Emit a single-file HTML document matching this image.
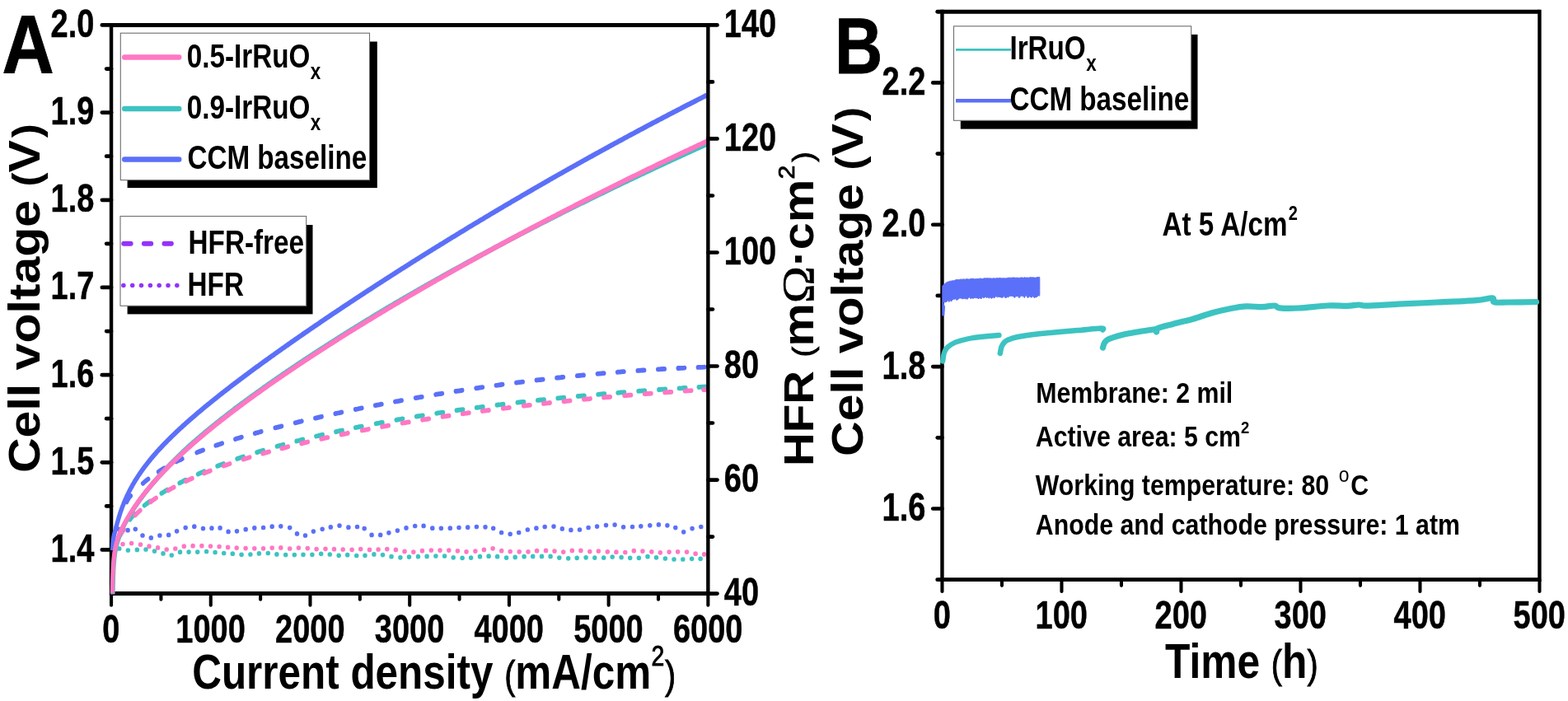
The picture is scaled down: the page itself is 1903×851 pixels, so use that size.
<!DOCTYPE html>
<html lang="en"><head><meta charset="utf-8"><title>Figure</title>
<style>html,body{margin:0;padding:0;background:#fff;overflow:hidden}svg{display:block}text{white-space:pre}</style>
</head><body>
<svg width="1903" height="851" viewBox="0 0 1903 851">
<rect width="1903" height="851" fill="#fff"/>
<g>
<rect width="1903" height="851" fill="#fff"/>
<g id="panelA">
<g stroke="#000" fill="none">
<line x1="135.05" y1="28.00" x2="135.05" y2="723.00" stroke-width="4.40" stroke-linecap="butt"/>
<line x1="135.05" y1="30.45" x2="859.35" y2="30.45" stroke-width="4.90" stroke-linecap="butt"/>
<line x1="135.05" y1="720.55" x2="859.35" y2="720.55" stroke-width="4.90" stroke-linecap="butt"/>
<line x1="123.85" y1="30.45" x2="135.05" y2="30.45" stroke-width="4.70" stroke-linecap="round"/>
<line x1="123.85" y1="136.62" x2="135.05" y2="136.62" stroke-width="4.70" stroke-linecap="round"/>
<line x1="123.85" y1="242.79" x2="135.05" y2="242.79" stroke-width="4.70" stroke-linecap="round"/>
<line x1="123.85" y1="348.96" x2="135.05" y2="348.96" stroke-width="4.70" stroke-linecap="round"/>
<line x1="123.85" y1="455.13" x2="135.05" y2="455.13" stroke-width="4.70" stroke-linecap="round"/>
<line x1="123.85" y1="561.30" x2="135.05" y2="561.30" stroke-width="4.70" stroke-linecap="round"/>
<line x1="123.85" y1="667.47" x2="135.05" y2="667.47" stroke-width="4.70" stroke-linecap="round"/>
<line x1="129.15" y1="83.53" x2="135.05" y2="83.53" stroke-width="4.70" stroke-linecap="round"/>
<line x1="129.15" y1="189.70" x2="135.05" y2="189.70" stroke-width="4.70" stroke-linecap="round"/>
<line x1="129.15" y1="295.87" x2="135.05" y2="295.87" stroke-width="4.70" stroke-linecap="round"/>
<line x1="129.15" y1="402.04" x2="135.05" y2="402.04" stroke-width="4.70" stroke-linecap="round"/>
<line x1="129.15" y1="508.21" x2="135.05" y2="508.21" stroke-width="4.70" stroke-linecap="round"/>
<line x1="129.15" y1="614.38" x2="135.05" y2="614.38" stroke-width="4.70" stroke-linecap="round"/>
<line x1="135.05" y1="720.55" x2="135.05" y2="734.75" stroke-width="4.10" stroke-linecap="round"/>
<line x1="255.77" y1="720.55" x2="255.77" y2="734.75" stroke-width="4.10" stroke-linecap="round"/>
<line x1="376.48" y1="720.55" x2="376.48" y2="734.75" stroke-width="4.10" stroke-linecap="round"/>
<line x1="497.20" y1="720.55" x2="497.20" y2="734.75" stroke-width="4.10" stroke-linecap="round"/>
<line x1="617.92" y1="720.55" x2="617.92" y2="734.75" stroke-width="4.10" stroke-linecap="round"/>
<line x1="738.63" y1="720.55" x2="738.63" y2="734.75" stroke-width="4.10" stroke-linecap="round"/>
<line x1="859.35" y1="720.55" x2="859.35" y2="734.75" stroke-width="4.10" stroke-linecap="round"/>
<line x1="195.41" y1="720.55" x2="195.41" y2="727.75" stroke-width="4.10" stroke-linecap="round"/>
<line x1="316.12" y1="720.55" x2="316.12" y2="727.75" stroke-width="4.10" stroke-linecap="round"/>
<line x1="436.84" y1="720.55" x2="436.84" y2="727.75" stroke-width="4.10" stroke-linecap="round"/>
<line x1="557.56" y1="720.55" x2="557.56" y2="727.75" stroke-width="4.10" stroke-linecap="round"/>
<line x1="678.28" y1="720.55" x2="678.28" y2="727.75" stroke-width="4.10" stroke-linecap="round"/>
<line x1="798.99" y1="720.55" x2="798.99" y2="727.75" stroke-width="4.10" stroke-linecap="round"/>
</g>
<g fill="none" stroke-linejoin="round">
<g fill="#5B70F8" stroke="none"><ellipse cx="144.1" cy="642.3" rx="2.74" ry="2.85"/><ellipse cx="155.1" cy="643.7" rx="2.74" ry="2.85"/><ellipse cx="164.3" cy="642.3" rx="2.74" ry="2.85"/><ellipse cx="173.0" cy="650.0" rx="2.74" ry="2.85"/><ellipse cx="183.3" cy="652.9" rx="2.74" ry="2.85"/><ellipse cx="193.9" cy="650.0" rx="2.74" ry="2.85"/><ellipse cx="204.7" cy="649.4" rx="2.74" ry="2.85"/><ellipse cx="214.6" cy="644.8" rx="2.74" ry="2.85"/><ellipse cx="225.2" cy="640.6" rx="2.74" ry="2.85"/><ellipse cx="235.8" cy="639.2" rx="2.74" ry="2.85"/><ellipse cx="246.5" cy="641.6" rx="2.74" ry="2.85"/><ellipse cx="256.9" cy="641.2" rx="2.74" ry="2.85"/><ellipse cx="267.1" cy="640.9" rx="2.74" ry="2.85"/><ellipse cx="277.1" cy="645.4" rx="2.74" ry="2.85"/><ellipse cx="287.5" cy="644.8" rx="2.74" ry="2.85"/><ellipse cx="298.2" cy="642.7" rx="2.74" ry="2.85"/><ellipse cx="308.8" cy="640.9" rx="2.74" ry="2.85"/><ellipse cx="319.6" cy="640.5" rx="2.74" ry="2.85"/><ellipse cx="330.2" cy="639.2" rx="2.74" ry="2.85"/><ellipse cx="340.8" cy="638.8" rx="2.74" ry="2.85"/><ellipse cx="351.7" cy="640.6" rx="2.74" ry="2.85"/><ellipse cx="360.5" cy="647.9" rx="2.74" ry="2.85"/><ellipse cx="370.5" cy="650.1" rx="2.74" ry="2.85"/><ellipse cx="380.4" cy="645.1" rx="2.74" ry="2.85"/><ellipse cx="391.2" cy="642.3" rx="2.74" ry="2.85"/><ellipse cx="401.3" cy="639.9" rx="2.74" ry="2.85"/><ellipse cx="412.0" cy="638.1" rx="2.74" ry="2.85"/><ellipse cx="422.9" cy="640.2" rx="2.74" ry="2.85"/><ellipse cx="433.5" cy="639.5" rx="2.74" ry="2.85"/><ellipse cx="442.2" cy="641.6" rx="2.74" ry="2.85"/><ellipse cx="451.1" cy="649.4" rx="2.74" ry="2.85"/><ellipse cx="461.7" cy="649.4" rx="2.74" ry="2.85"/><ellipse cx="471.9" cy="646.8" rx="2.74" ry="2.85"/><ellipse cx="482.4" cy="644.1" rx="2.74" ry="2.85"/><ellipse cx="493.0" cy="640.9" rx="2.74" ry="2.85"/><ellipse cx="503.7" cy="638.5" rx="2.74" ry="2.85"/><ellipse cx="514.1" cy="638.4" rx="2.74" ry="2.85"/><ellipse cx="524.8" cy="641.2" rx="2.74" ry="2.85"/><ellipse cx="535.4" cy="641.3" rx="2.74" ry="2.85"/><ellipse cx="546.3" cy="641.2" rx="2.74" ry="2.85"/><ellipse cx="557.0" cy="640.5" rx="2.74" ry="2.85"/><ellipse cx="567.7" cy="640.2" rx="2.74" ry="2.85"/><ellipse cx="578.4" cy="639.5" rx="2.74" ry="2.85"/><ellipse cx="589.0" cy="639.8" rx="2.74" ry="2.85"/><ellipse cx="598.7" cy="641.3" rx="2.74" ry="2.85"/><ellipse cx="608.6" cy="646.5" rx="2.74" ry="2.85"/><ellipse cx="619.2" cy="648.3" rx="2.74" ry="2.85"/><ellipse cx="629.7" cy="646.5" rx="2.74" ry="2.85"/><ellipse cx="640.3" cy="643.0" rx="2.74" ry="2.85"/><ellipse cx="650.9" cy="641.2" rx="2.74" ry="2.85"/><ellipse cx="661.2" cy="639.5" rx="2.74" ry="2.85"/><ellipse cx="672.0" cy="639.1" rx="2.74" ry="2.85"/><ellipse cx="682.3" cy="641.9" rx="2.74" ry="2.85"/><ellipse cx="692.9" cy="643.4" rx="2.74" ry="2.85"/><ellipse cx="703.5" cy="643.0" rx="2.74" ry="2.85"/><ellipse cx="714.1" cy="640.5" rx="2.74" ry="2.85"/><ellipse cx="724.6" cy="639.1" rx="2.74" ry="2.85"/><ellipse cx="735.5" cy="637.6" rx="2.74" ry="2.85"/><ellipse cx="746.1" cy="637.1" rx="2.74" ry="2.85"/><ellipse cx="756.6" cy="639.8" rx="2.74" ry="2.85"/><ellipse cx="767.5" cy="639.5" rx="2.74" ry="2.85"/><ellipse cx="777.8" cy="638.8" rx="2.74" ry="2.85"/><ellipse cx="788.8" cy="637.8" rx="2.74" ry="2.85"/><ellipse cx="799.4" cy="636.9" rx="2.74" ry="2.85"/><ellipse cx="809.9" cy="637.8" rx="2.74" ry="2.85"/><ellipse cx="819.8" cy="640.6" rx="2.74" ry="2.85"/><ellipse cx="829.7" cy="645.8" rx="2.74" ry="2.85"/><ellipse cx="840.1" cy="641.6" rx="2.74" ry="2.85"/><ellipse cx="850.8" cy="639.5" rx="2.74" ry="2.85"/></g>
<g fill="#3CC3C1" stroke="none"><ellipse cx="144.8" cy="666.0" rx="2.74" ry="2.85"/><ellipse cx="155.4" cy="668.0" rx="2.74" ry="2.85"/><ellipse cx="166.4" cy="667.4" rx="2.74" ry="2.85"/><ellipse cx="177.0" cy="667.0" rx="2.74" ry="2.85"/><ellipse cx="187.5" cy="669.1" rx="2.74" ry="2.85"/><ellipse cx="198.0" cy="671.9" rx="2.74" ry="2.85"/><ellipse cx="208.3" cy="674.0" rx="2.74" ry="2.85"/><ellipse cx="218.5" cy="670.2" rx="2.74" ry="2.85"/><ellipse cx="229.1" cy="670.1" rx="2.74" ry="2.85"/><ellipse cx="239.7" cy="670.1" rx="2.74" ry="2.85"/><ellipse cx="250.6" cy="669.5" rx="2.74" ry="2.85"/><ellipse cx="261.1" cy="670.5" rx="2.74" ry="2.85"/><ellipse cx="271.7" cy="671.5" rx="2.74" ry="2.85"/><ellipse cx="282.3" cy="672.2" rx="2.74" ry="2.85"/><ellipse cx="293.1" cy="673.3" rx="2.74" ry="2.85"/><ellipse cx="303.9" cy="673.0" rx="2.74" ry="2.85"/><ellipse cx="314.4" cy="671.9" rx="2.74" ry="2.85"/><ellipse cx="325.3" cy="671.5" rx="2.74" ry="2.85"/><ellipse cx="335.9" cy="672.9" rx="2.74" ry="2.85"/><ellipse cx="346.7" cy="673.6" rx="2.74" ry="2.85"/><ellipse cx="357.3" cy="673.6" rx="2.74" ry="2.85"/><ellipse cx="368.0" cy="673.3" rx="2.74" ry="2.85"/><ellipse cx="378.9" cy="673.3" rx="2.74" ry="2.85"/><ellipse cx="389.7" cy="672.3" rx="2.74" ry="2.85"/><ellipse cx="400.3" cy="673.0" rx="2.74" ry="2.85"/><ellipse cx="411.2" cy="674.3" rx="2.74" ry="2.85"/><ellipse cx="421.7" cy="673.7" rx="2.74" ry="2.85"/><ellipse cx="432.7" cy="674.5" rx="2.74" ry="2.85"/><ellipse cx="443.0" cy="674.3" rx="2.74" ry="2.85"/><ellipse cx="453.9" cy="672.9" rx="2.74" ry="2.85"/><ellipse cx="464.5" cy="673.6" rx="2.74" ry="2.85"/><ellipse cx="475.0" cy="675.7" rx="2.74" ry="2.85"/><ellipse cx="485.9" cy="676.8" rx="2.74" ry="2.85"/><ellipse cx="496.5" cy="676.1" rx="2.74" ry="2.85"/><ellipse cx="507.5" cy="675.7" rx="2.74" ry="2.85"/><ellipse cx="518.1" cy="675.4" rx="2.74" ry="2.85"/><ellipse cx="528.9" cy="675.0" rx="2.74" ry="2.85"/><ellipse cx="539.6" cy="675.0" rx="2.74" ry="2.85"/><ellipse cx="550.2" cy="676.8" rx="2.74" ry="2.85"/><ellipse cx="561.1" cy="677.3" rx="2.74" ry="2.85"/><ellipse cx="571.6" cy="677.1" rx="2.74" ry="2.85"/><ellipse cx="582.5" cy="675.7" rx="2.74" ry="2.85"/><ellipse cx="593.1" cy="675.2" rx="2.74" ry="2.85"/><ellipse cx="603.6" cy="675.7" rx="2.74" ry="2.85"/><ellipse cx="614.6" cy="677.1" rx="2.74" ry="2.85"/><ellipse cx="625.2" cy="676.4" rx="2.74" ry="2.85"/><ellipse cx="636.1" cy="675.7" rx="2.74" ry="2.85"/><ellipse cx="646.7" cy="675.4" rx="2.74" ry="2.85"/><ellipse cx="657.5" cy="675.4" rx="2.74" ry="2.85"/><ellipse cx="668.1" cy="675.4" rx="2.74" ry="2.85"/><ellipse cx="678.8" cy="677.1" rx="2.74" ry="2.85"/><ellipse cx="689.7" cy="677.8" rx="2.74" ry="2.85"/><ellipse cx="700.2" cy="677.3" rx="2.74" ry="2.85"/><ellipse cx="711.1" cy="676.8" rx="2.74" ry="2.85"/><ellipse cx="721.8" cy="677.1" rx="2.74" ry="2.85"/><ellipse cx="732.7" cy="677.1" rx="2.74" ry="2.85"/><ellipse cx="743.2" cy="676.1" rx="2.74" ry="2.85"/><ellipse cx="754.1" cy="676.6" rx="2.74" ry="2.85"/><ellipse cx="764.7" cy="677.3" rx="2.74" ry="2.85"/><ellipse cx="775.4" cy="677.3" rx="2.74" ry="2.85"/><ellipse cx="786.0" cy="675.7" rx="2.74" ry="2.85"/><ellipse cx="796.5" cy="676.8" rx="2.74" ry="2.85"/><ellipse cx="807.4" cy="678.0" rx="2.74" ry="2.85"/><ellipse cx="818.0" cy="679.0" rx="2.74" ry="2.85"/><ellipse cx="828.8" cy="679.0" rx="2.74" ry="2.85"/><ellipse cx="839.6" cy="678.3" rx="2.74" ry="2.85"/><ellipse cx="850.1" cy="678.3" rx="2.74" ry="2.85"/></g>
<g fill="#FF77C3" stroke="none"><ellipse cx="149.0" cy="660.6" rx="2.74" ry="2.85"/><ellipse cx="159.6" cy="659.5" rx="2.74" ry="2.85"/><ellipse cx="170.5" cy="661.1" rx="2.74" ry="2.85"/><ellipse cx="181.0" cy="663.2" rx="2.74" ry="2.85"/><ellipse cx="191.6" cy="664.9" rx="2.74" ry="2.85"/><ellipse cx="202.2" cy="667.0" rx="2.74" ry="2.85"/><ellipse cx="212.8" cy="666.0" rx="2.74" ry="2.85"/><ellipse cx="223.3" cy="663.2" rx="2.74" ry="2.85"/><ellipse cx="234.1" cy="662.7" rx="2.74" ry="2.85"/><ellipse cx="244.9" cy="662.7" rx="2.74" ry="2.85"/><ellipse cx="255.5" cy="663.0" rx="2.74" ry="2.85"/><ellipse cx="266.1" cy="663.5" rx="2.74" ry="2.85"/><ellipse cx="276.6" cy="664.4" rx="2.74" ry="2.85"/><ellipse cx="287.2" cy="665.1" rx="2.74" ry="2.85"/><ellipse cx="298.1" cy="665.6" rx="2.74" ry="2.85"/><ellipse cx="308.8" cy="665.8" rx="2.74" ry="2.85"/><ellipse cx="319.6" cy="665.8" rx="2.74" ry="2.85"/><ellipse cx="330.2" cy="665.1" rx="2.74" ry="2.85"/><ellipse cx="340.8" cy="664.9" rx="2.74" ry="2.85"/><ellipse cx="351.7" cy="666.0" rx="2.74" ry="2.85"/><ellipse cx="362.4" cy="665.1" rx="2.74" ry="2.85"/><ellipse cx="373.3" cy="665.6" rx="2.74" ry="2.85"/><ellipse cx="384.1" cy="666.6" rx="2.74" ry="2.85"/><ellipse cx="395.0" cy="666.3" rx="2.74" ry="2.85"/><ellipse cx="405.5" cy="666.7" rx="2.74" ry="2.85"/><ellipse cx="416.2" cy="667.0" rx="2.74" ry="2.85"/><ellipse cx="427.1" cy="667.3" rx="2.74" ry="2.85"/><ellipse cx="437.7" cy="666.6" rx="2.74" ry="2.85"/><ellipse cx="448.5" cy="667.4" rx="2.74" ry="2.85"/><ellipse cx="459.1" cy="667.0" rx="2.74" ry="2.85"/><ellipse cx="469.8" cy="666.6" rx="2.74" ry="2.85"/><ellipse cx="480.4" cy="667.4" rx="2.74" ry="2.85"/><ellipse cx="491.0" cy="669.4" rx="2.74" ry="2.85"/><ellipse cx="501.8" cy="670.1" rx="2.74" ry="2.85"/><ellipse cx="512.4" cy="668.7" rx="2.74" ry="2.85"/><ellipse cx="523.3" cy="668.0" rx="2.74" ry="2.85"/><ellipse cx="534.0" cy="668.1" rx="2.74" ry="2.85"/><ellipse cx="544.8" cy="668.1" rx="2.74" ry="2.85"/><ellipse cx="555.4" cy="668.8" rx="2.74" ry="2.85"/><ellipse cx="566.0" cy="669.8" rx="2.74" ry="2.85"/><ellipse cx="576.9" cy="669.1" rx="2.74" ry="2.85"/><ellipse cx="587.4" cy="667.4" rx="2.74" ry="2.85"/><ellipse cx="598.1" cy="665.8" rx="2.74" ry="2.85"/><ellipse cx="608.7" cy="668.7" rx="2.74" ry="2.85"/><ellipse cx="619.2" cy="669.5" rx="2.74" ry="2.85"/><ellipse cx="630.2" cy="669.8" rx="2.74" ry="2.85"/><ellipse cx="641.0" cy="669.8" rx="2.74" ry="2.85"/><ellipse cx="651.6" cy="668.7" rx="2.74" ry="2.85"/><ellipse cx="662.5" cy="668.4" rx="2.74" ry="2.85"/><ellipse cx="673.0" cy="669.1" rx="2.74" ry="2.85"/><ellipse cx="683.7" cy="670.1" rx="2.74" ry="2.85"/><ellipse cx="694.3" cy="668.4" rx="2.74" ry="2.85"/><ellipse cx="704.9" cy="668.4" rx="2.74" ry="2.85"/><ellipse cx="715.8" cy="669.5" rx="2.74" ry="2.85"/><ellipse cx="726.3" cy="669.1" rx="2.74" ry="2.85"/><ellipse cx="737.3" cy="669.8" rx="2.74" ry="2.85"/><ellipse cx="747.9" cy="670.2" rx="2.74" ry="2.85"/><ellipse cx="758.8" cy="670.5" rx="2.74" ry="2.85"/><ellipse cx="769.3" cy="668.7" rx="2.74" ry="2.85"/><ellipse cx="779.9" cy="669.1" rx="2.74" ry="2.85"/><ellipse cx="790.8" cy="669.8" rx="2.74" ry="2.85"/><ellipse cx="801.3" cy="670.8" rx="2.74" ry="2.85"/><ellipse cx="812.1" cy="670.1" rx="2.74" ry="2.85"/><ellipse cx="822.6" cy="669.8" rx="2.74" ry="2.85"/><ellipse cx="833.5" cy="670.1" rx="2.74" ry="2.85"/><ellipse cx="844.1" cy="672.2" rx="2.74" ry="2.85"/><ellipse cx="854.6" cy="672.9" rx="2.74" ry="2.85"/></g>
<g transform="scale(0.8550 1)">
<path d="M179.9 609.4L180.6 608.1L181.5 606.6L182.5 605.2L183.6 603.8L184.8 602.6L185.5 602.0M202.8 586.9L204.3 585.8L205.8 584.6L207.4 583.5L209.0 582.4L210.4 581.5M224.9 572.7L226.1 572.0L227.7 571.2L229.2 570.3L230.8 569.5L232.4 568.7L233.2 568.3M250.1 560.5L250.3 560.4L252.6 559.4L255.0 558.5L257.3 557.5L258.7 557.0M279.4 549.4L280.7 548.9L283.0 548.1L285.4 547.4L287.7 546.6L288.3 546.4M306.3 540.8L306.4 540.8L308.8 540.1L311.1 539.4L313.5 538.7L315.3 538.2M334.0 533.1L334.5 532.9L336.8 532.3L339.2 531.7L341.5 531.1L343.0 530.7M361.8 526.1L362.6 525.9L364.9 525.3L367.3 524.8L369.6 524.2L370.9 523.9M390.6 519.4L390.6 519.4L393.0 518.9L395.3 518.4L397.7 517.9L399.8 517.4M419.0 513.3L421.1 512.9L423.4 512.4L425.7 511.9L428.1 511.5L428.2 511.4M447.5 507.6L449.1 507.3L451.5 506.8L453.8 506.3L456.1 505.9L456.6 505.8M475.9 502.2L477.2 501.9L479.5 501.5L481.9 501.1L484.2 500.6L485.1 500.5M504.4 497.0L505.3 496.9L507.6 496.5L509.9 496.0L512.3 495.6L513.6 495.4M532.6 492.2L533.3 492.1L535.7 491.7L538.0 491.3L540.4 490.9L541.8 490.7M560.9 487.6L561.4 487.5L563.7 487.1L566.1 486.8L568.4 486.4L570.1 486.1M589.8 483.1L591.8 482.8L594.2 482.5L596.5 482.1L598.8 481.8L599.0 481.8M618.4 479.0L619.9 478.7L622.2 478.4L624.6 478.1L626.9 477.8L627.7 477.7M646.8 475.0L648.0 474.9L650.3 474.6L652.6 474.3L655.0 474.0L656.1 473.8M675.8 471.3L676.0 471.2L678.4 471.0L680.7 470.7L683.0 470.4L685.1 470.1M704.1 467.8L706.4 467.6L708.8 467.3L711.1 467.0L713.4 466.7M732.8 464.6L734.5 464.4L736.8 464.1L739.2 463.9L741.5 463.6L742.1 463.6M761.5 461.5L762.6 461.4L764.9 461.2L767.3 461.0L769.6 460.7L770.9 460.6M790.3 458.7L790.6 458.7L793.0 458.5L795.3 458.3L797.7 458.0L799.6 457.9M819.2 456.1L821.1 456.0L823.4 455.8L825.7 455.6L828.1 455.4L828.5 455.4M848.1 453.8L849.1 453.7L851.5 453.6L853.8 453.4L856.1 453.2L857.4 453.1M876.4 451.8L877.2 451.7L879.5 451.6L881.9 451.4L884.2 451.2L885.7 451.1M905.2 449.9L905.3 449.9L907.6 449.8L909.9 449.6L912.3 449.5L914.5 449.4M933.9 448.3L935.7 448.3L938.0 448.1L940.4 448.0L942.7 447.9L943.3 447.9M962.5 447.0L963.7 447.0L966.1 446.9L968.4 446.8L970.8 446.7L971.8 446.6M990.8 445.9L991.8 445.9L994.2 445.8L996.5 445.8L999.0 445.7L1000.1 445.6" stroke="#5B70F8" stroke-width="5.80" stroke-linecap="round"/>
<path d="M166.1 658.3L166.3 657.6L166.9 656.2L167.5 654.8L168.1 653.4L168.8 651.9L169.6 650.5L170.0 649.8M184.6 630.7L184.9 630.4L186.0 629.0L187.1 627.8L188.8 626.2L190.3 624.9L191.2 624.1M204.9 613.7L205.8 613.1L207.4 612.0L209.0 611.0L210.5 610.0L212.1 609.0L212.7 608.6M229.2 598.9L229.2 598.9L230.8 598.1L232.4 597.2L233.9 596.4L235.5 595.6L237.0 594.8L237.5 594.6M254.8 586.4L255.8 586.0L257.3 585.3L259.6 584.3L262.0 583.3L263.4 582.7M281.0 575.6L283.0 574.8L285.4 573.9L287.7 573.1L289.8 572.3M308.5 565.8L308.8 565.7L311.1 564.9L313.5 564.2L315.8 563.4L317.4 562.9M336.6 557.0L336.8 556.9L339.2 556.2L341.5 555.5L343.9 554.9L345.5 554.4M364.6 549.1L364.9 549.1L367.3 548.4L369.6 547.8L371.9 547.2L373.7 546.8M393.1 541.9L395.3 541.4L397.7 540.8L400.0 540.3L402.2 539.8M420.9 535.5L421.1 535.5L423.4 535.0L425.7 534.5L428.1 533.9L430.1 533.5M448.7 529.6L449.1 529.5L451.5 529.1L453.8 528.6L456.1 528.1L457.9 527.8M476.7 524.2L477.2 524.1L479.5 523.6L481.9 523.2L484.2 522.8L485.9 522.5M504.5 519.1L505.3 519.0L507.6 518.6L509.9 518.2L512.3 517.8L513.7 517.6M533.6 514.3L535.7 513.9L538.0 513.6L540.4 513.2L542.7 512.8L542.9 512.8M562.5 509.8L563.7 509.6L566.1 509.2L568.4 508.9L570.8 508.5L571.8 508.4M591.0 505.6L591.8 505.5L594.2 505.2L596.5 504.9L598.8 504.5L600.3 504.3M619.7 501.8L619.9 501.7L622.2 501.4L624.6 501.1L626.9 500.8L629.0 500.6M648.0 498.2L650.3 497.9L652.6 497.6L655.0 497.3L657.3 497.1M676.3 494.9L678.4 494.6L680.7 494.4L683.0 494.1L685.4 493.8L685.6 493.8M705.3 491.7L706.4 491.5L708.8 491.3L711.1 491.1L713.5 490.8L714.6 490.7M734.5 488.7L736.8 488.4L739.2 488.2L741.5 488.0L743.8 487.8M763.1 485.9L764.9 485.8L767.3 485.5L769.6 485.3L771.9 485.1L772.4 485.1M791.6 483.4L793.0 483.3L795.3 483.1L797.7 482.9L800.0 482.7L800.9 482.6M820.2 481.0L821.1 480.9L823.4 480.8L825.7 480.6L828.1 480.4L829.6 480.3M848.9 478.8L849.1 478.8L851.5 478.6L853.8 478.4L856.1 478.2L858.2 478.1M877.0 476.8L877.2 476.8L879.5 476.6L881.9 476.4L884.2 476.3L886.3 476.1M906.1 474.8L907.6 474.7L909.9 474.6L912.3 474.4L914.6 474.3L915.4 474.2M935.2 473.0L935.7 473.0L938.0 472.9L940.4 472.7L942.7 472.6L944.6 472.5M963.9 471.4L966.1 471.3L968.4 471.2L970.8 471.0L973.1 470.9L973.2 470.9M991.8 470.0L994.2 469.8L996.5 469.7L999.0 469.6L1001.2 469.5" stroke="#3CC3C1" stroke-width="5.80" stroke-linecap="round"/>
<path d="M170.4 650.3L170.5 650.1L171.4 648.8L172.4 647.4L173.4 646.1L174.4 644.8L175.4 643.5L176.0 642.8M191.8 625.6L191.8 625.5L193.4 624.2L194.9 622.8L196.5 621.6L198.1 620.3L199.0 619.6M213.6 609.4L213.6 609.3L215.2 608.3L216.8 607.4L218.3 606.4L219.9 605.5L221.4 604.6L221.6 604.5M238.5 595.5L238.6 595.4L240.2 594.7L241.7 593.9L243.3 593.2L244.8 592.4L246.4 591.7L246.9 591.5M264.1 584.1L264.3 584.0L266.7 583.0L269.0 582.1L271.3 581.2L272.8 580.7M289.7 574.5L290.1 574.4L292.4 573.6L294.7 572.8L297.1 572.0L298.6 571.5M317.3 565.6L318.1 565.3L320.5 564.6L322.8 564.0L325.1 563.3L326.2 563.0M345.3 557.6L346.2 557.4L348.5 556.8L350.9 556.2L353.2 555.5L354.4 555.2M372.8 550.6L374.3 550.3L376.6 549.7L378.9 549.1L381.3 548.6L381.9 548.4M399.8 544.3L400.0 544.3L402.3 543.8L404.7 543.3L407.0 542.8L408.9 542.3M427.8 538.4L428.1 538.3L430.4 537.8L432.7 537.3L435.1 536.9L437.0 536.5M456.0 532.8L456.1 532.8L458.5 532.3L460.8 531.9L463.2 531.4L465.2 531.1M484.5 527.6L486.5 527.2L488.9 526.8L491.2 526.4L493.6 526.0L493.7 525.9M513.9 522.5L514.6 522.4L517.0 522.0L519.3 521.7L521.6 521.3L523.1 521.0M542.3 518.0L542.7 517.9L545.0 517.6L547.4 517.2L549.7 516.9L551.5 516.6M571.0 513.7L573.1 513.4L575.4 513.1L577.8 512.7L580.1 512.4L580.3 512.4M599.6 509.7L601.2 509.4L603.5 509.1L605.8 508.8L608.2 508.5L608.8 508.4M628.2 505.9L629.2 505.7L631.6 505.4L633.9 505.1L636.3 504.8L637.5 504.7M656.5 502.3L657.3 502.2L659.6 501.9L662.0 501.7L664.3 501.4L665.8 501.2M684.6 499.0L685.4 498.9L687.7 498.7L690.1 498.4L692.4 498.1L693.9 498.0M713.8 495.8L715.8 495.6L718.1 495.3L720.5 495.1L722.8 494.8L723.1 494.8M743.1 492.7L743.9 492.6L746.2 492.4L748.5 492.2L750.9 491.9L752.4 491.8M771.4 489.9L771.9 489.9L774.3 489.6L776.6 489.4L778.9 489.2L780.7 489.0M800.0 487.3L802.3 487.1L804.7 486.9L807.0 486.7L809.3 486.4M828.6 484.8L830.4 484.6L832.7 484.4L835.1 484.3L837.4 484.1L837.9 484.0M856.9 482.5L858.5 482.4L860.8 482.2L863.2 482.0L865.5 481.8L866.2 481.8M886.3 480.3L886.5 480.2L888.9 480.1L891.2 479.9L893.6 479.7L895.7 479.6M914.9 478.2L917.0 478.1L919.3 477.9L921.6 477.8L924.0 477.6L924.2 477.6M943.5 476.4L945.0 476.3L947.4 476.1L949.7 476.0L952.0 475.8L952.9 475.8M972.1 474.6L973.1 474.6L975.4 474.4L977.8 474.3L980.1 474.2L981.4 474.1M998.5 473.1L999.0 473.1L1001.2 473.0L1002.5 472.9L1003.2 472.9L1003.2 472.9" stroke="#FF77C3" stroke-width="5.80" stroke-linecap="round"/>
<path d="M159.8 668.0L159.8 666.9L159.9 665.4L160.0 663.7L160.1 661.8L160.2 660.0L160.4 658.5L160.6 657.0L160.8 655.5L161.1 653.9L161.4 652.4L161.6 651.0L162.0 649.4L162.4 647.9L162.9 646.5L163.3 645.1L163.7 643.6L164.2 642.2L164.5 640.8L165.0 639.4L165.5 637.8L166.1 635.9L166.5 634.6L167.0 633.2L167.5 631.7L168.0 630.2L168.6 628.6L169.1 627.0L169.7 625.4L170.2 623.9L170.8 622.5L171.4 620.8L172.1 619.2L172.8 617.6L173.4 616.0L174.1 614.5L174.8 613.0L175.4 611.6L176.2 609.9L177.0 608.3L177.8 606.8L178.6 605.3L179.3 603.8L180.1 602.3L180.9 600.9L181.7 599.5L182.5 598.2L183.2 596.8L184.0 595.5L184.8 594.3L185.7 592.7L186.7 591.3L187.6 589.8L188.5 588.4L189.5 587.0L190.4 585.7L191.3 584.3L192.3 583.0L193.2 581.7L194.2 580.5L195.3 578.9L196.5 577.4L197.7 575.9L198.8 574.4L200.0 573.0L201.2 571.6L202.3 570.2L203.5 568.8L204.7 567.4L205.8 566.1L207.0 564.8L208.2 563.5L209.4 562.2L210.5 560.9L211.7 559.7L212.9 558.5L214.0 557.2L215.2 556.0L216.4 554.9L217.5 553.7L218.7 552.5L219.9 551.4L221.1 550.2L222.2 549.1L223.8 547.6L225.3 546.1L226.9 544.7L228.5 543.3L230.0 541.8L231.6 540.4L233.1 539.0L234.7 537.7L236.3 536.3L237.8 534.9L239.4 533.6L240.9 532.3L242.5 531.0L244.1 529.7L245.6 528.4L247.2 527.1L248.7 525.8L250.3 524.5L251.9 523.3L253.4 522.0L255.0 520.8L256.5 519.6L258.1 518.4L259.6 517.1L261.2 515.9L262.8 514.7L264.3 513.5L265.9 512.4L267.4 511.2L269.0 510.0L270.6 508.8L272.1 507.7L273.7 506.5L275.2 505.4L276.8 504.2L278.4 503.1L279.9 501.9L281.5 500.8L283.0 499.7L284.6 498.6L286.2 497.5L287.7 496.3L289.3 495.2L290.8 494.1L292.4 493.0L294.0 491.9L295.5 490.8L297.1 489.8L298.6 488.7L300.2 487.6L301.8 486.5L303.3 485.5L304.9 484.4L306.4 483.3L308.0 482.3L309.6 481.2L311.1 480.1L312.7 479.1L314.2 478.0L315.8 477.0L317.3 476.0L318.9 474.9L320.5 473.9L322.0 472.8L323.6 471.8L325.1 470.8L326.7 469.7L328.3 468.7L329.8 467.7L331.4 466.7L332.9 465.7L334.5 464.6L336.1 463.6L337.6 462.6L339.2 461.6L340.7 460.6L342.3 459.6L343.9 458.6L345.4 457.6L347.0 456.6L348.5 455.6L350.1 454.6L351.7 453.6L353.2 452.6L354.8 451.6L356.3 450.7L357.9 449.7L359.5 448.7L361.0 447.7L362.6 446.7L364.1 445.7L365.7 444.8L367.3 443.8L368.8 442.8L370.4 441.8L371.9 440.9L373.5 439.9L375.0 438.9L376.6 438.0L378.2 437.0L379.7 436.1L381.3 435.1L382.8 434.1L384.4 433.2L386.0 432.2L387.5 431.3L389.1 430.3L390.6 429.4L392.2 428.4L393.8 427.5L395.3 426.5L396.9 425.6L398.4 424.6L400.0 423.7L401.6 422.7L403.1 421.8L404.7 420.8L406.2 419.9L407.8 419.0L409.4 418.0L410.9 417.1L412.5 416.2L414.0 415.2L415.6 414.3L417.2 413.4L418.7 412.4L420.3 411.5L421.8 410.6L423.4 409.7L425.0 408.7L426.5 407.8L428.1 406.9L429.6 406.0L431.2 405.0L432.7 404.1L434.3 403.2L435.9 402.3L437.4 401.4L439.0 400.5L440.5 399.5L442.1 398.6L443.7 397.7L445.2 396.8L446.8 395.9L448.3 395.0L449.9 394.1L451.5 393.2L453.0 392.3L454.6 391.3L456.1 390.4L457.7 389.5L459.3 388.6L460.8 387.7L462.4 386.8L463.9 385.9L465.5 385.0L467.1 384.1L468.6 383.2L470.2 382.3L471.7 381.4L473.3 380.5L474.9 379.6L476.4 378.8L478.0 377.9L479.5 377.0L481.1 376.1L482.7 375.2L484.2 374.3L485.8 373.4L487.3 372.5L488.9 371.6L490.4 370.8L492.0 369.9L493.6 369.0L495.1 368.1L496.7 367.2L498.2 366.3L499.8 365.5L501.4 364.6L502.9 363.7L504.5 362.8L506.0 361.9L507.6 361.1L509.2 360.2L510.7 359.3L512.3 358.4L513.8 357.6L515.4 356.7L517.0 355.8L518.5 354.9L520.1 354.1L521.6 353.2L523.2 352.3L524.8 351.5L526.3 350.6L527.9 349.7L529.4 348.9L531.0 348.0L532.6 347.1L534.1 346.3L535.7 345.4L537.2 344.5L538.8 343.7L540.4 342.8L541.9 342.0L543.5 341.1L545.0 340.2L546.6 339.4L548.1 338.5L549.7 337.7L551.3 336.8L552.8 336.0L554.4 335.1L555.9 334.2L557.5 333.4L559.1 332.5L560.6 331.7L562.2 330.8L563.7 330.0L565.3 329.1L566.9 328.3L568.4 327.4L570.0 326.6L571.5 325.7L573.1 324.9L574.7 324.1L576.2 323.2L577.8 322.4L579.3 321.5L580.9 320.7L582.5 319.8L584.0 319.0L585.6 318.1L587.1 317.3L588.7 316.5L590.3 315.6L591.8 314.8L593.4 314.0L594.9 313.1L596.5 312.3L598.1 311.4L599.6 310.6L601.2 309.8L602.7 308.9L604.3 308.1L605.8 307.3L607.4 306.4L609.0 305.6L610.5 304.8L612.1 304.0L613.6 303.1L615.2 302.3L616.8 301.5L618.3 300.6L619.9 299.8L621.4 299.0L623.0 298.2L624.6 297.3L626.1 296.5L627.7 295.7L629.2 294.9L630.8 294.1L632.4 293.2L633.9 292.4L635.5 291.6L637.0 290.8L638.6 290.0L640.2 289.1L641.7 288.3L643.3 287.5L644.8 286.7L646.4 285.9L648.0 285.1L649.5 284.2L651.1 283.4L652.6 282.6L654.2 281.8L655.8 281.0L657.3 280.2L658.9 279.4L660.4 278.6L662.0 277.8L663.5 276.9L665.1 276.1L666.7 275.3L668.2 274.5L669.8 273.7L671.3 272.9L672.9 272.1L674.5 271.3L676.0 270.5L677.6 269.7L679.1 268.9L680.7 268.1L682.3 267.3L683.8 266.5L685.4 265.7L686.9 264.9L688.5 264.1L690.1 263.3L691.6 262.5L693.2 261.7L694.7 260.9L696.3 260.1L697.9 259.3L699.4 258.5L701.0 257.7L702.5 256.9L704.1 256.1L705.7 255.4L707.2 254.6L708.8 253.8L710.3 253.0L711.9 252.2L713.5 251.4L715.0 250.6L716.6 249.8L718.1 249.0L719.7 248.3L721.2 247.5L722.8 246.7L724.4 245.9L725.9 245.1L727.5 244.3L729.0 243.6L730.6 242.8L732.2 242.0L733.7 241.2L735.3 240.4L736.8 239.7L738.4 238.9L740.0 238.1L741.5 237.3L743.1 236.5L744.6 235.8L746.2 235.0L747.8 234.2L749.3 233.4L750.9 232.7L752.4 231.9L754.0 231.1L755.6 230.4L757.1 229.6L758.7 228.8L760.2 228.0L761.8 227.3L763.4 226.5L764.9 225.7L766.5 225.0L768.0 224.2L769.6 223.4L771.2 222.7L772.7 221.9L774.3 221.1L775.8 220.4L777.4 219.6L778.9 218.9L780.5 218.1L782.1 217.3L783.6 216.6L785.2 215.8L786.7 215.0L788.3 214.3L789.9 213.5L791.4 212.8L793.0 212.0L794.5 211.3L796.1 210.5L797.7 209.8L799.2 209.0L800.8 208.2L802.3 207.5L803.9 206.7L805.5 206.0L807.0 205.2L808.6 204.5L810.1 203.7L811.7 203.0L813.3 202.2L814.8 201.5L816.4 200.7L817.9 200.0L819.5 199.2L821.1 198.5L822.6 197.8L824.2 197.0L825.7 196.3L827.3 195.5L828.8 194.8L830.4 194.0L832.0 193.3L833.5 192.6L835.1 191.8L836.6 191.1L838.2 190.3L839.8 189.6L841.3 188.9L842.9 188.1L844.4 187.4L846.0 186.6L847.6 185.9L849.1 185.2L850.7 184.4L852.2 183.7L853.8 183.0L855.4 182.2L856.9 181.5L858.5 180.8L860.0 180.0L861.6 179.3L863.2 178.6L864.7 177.9L866.3 177.1L867.8 176.4L869.4 175.7L871.0 174.9L872.5 174.2L874.1 173.5L875.6 172.8L877.2 172.1L878.8 171.3L880.3 170.6L881.9 169.9L883.4 169.2L885.0 168.4L886.5 167.7L888.1 167.0L889.7 166.3L891.2 165.6L892.8 164.8L894.3 164.1L895.9 163.4L897.5 162.7L899.0 162.0L900.6 161.3L902.1 160.6L903.7 159.8L905.3 159.1L906.8 158.4L908.4 157.7L909.9 157.0L911.5 156.3L913.1 155.6L914.6 154.9L916.2 154.2L917.7 153.4L919.3 152.7L920.9 152.0L922.4 151.3L924.0 150.6L925.5 149.9L927.1 149.2L928.7 148.5L930.2 147.8L931.8 147.1L933.3 146.4L934.9 145.7L936.5 145.0L938.0 144.3L939.6 143.6L941.1 142.9L942.7 142.2L944.2 141.5L945.8 140.8L947.4 140.1L948.9 139.4L950.5 138.7L952.0 138.0L953.6 137.3L955.2 136.6L956.7 135.9L958.3 135.3L959.8 134.6L961.4 133.9L963.0 133.2L964.5 132.5L966.1 131.8L967.6 131.1L969.2 130.4L970.8 129.7L973.1 128.7L975.4 127.7L977.8 126.7L980.1 125.6L982.5 124.6L984.8 123.6L987.1 122.6L989.5 121.5L991.8 120.5L994.2 119.5L996.5 118.5L998.8 117.5L1001.3 116.4L1003.2 115.6" stroke="#5B70F8" stroke-width="6.20"/>
<path d="M160.1 721.5L160.1 720.6L160.2 719.5L160.2 718.2L160.2 716.7L160.3 715.1L160.3 713.4L160.4 711.7L160.4 709.9L160.5 708.2L160.5 706.5L160.6 705.0L160.6 703.4L160.7 701.7L160.8 700.0L160.8 698.4L160.9 696.7L161.0 695.1L161.0 693.5L161.1 691.9L161.2 690.4L161.3 689.0L161.4 687.3L161.5 685.6L161.7 684.1L161.8 682.6L162.0 681.1L162.1 679.7L162.3 678.3L162.5 677.0L162.7 675.3L162.9 673.7L163.2 672.2L163.4 670.8L163.7 669.4L164.0 668.0L164.3 666.4L164.7 664.8L165.1 663.3L165.5 661.8L166.0 660.3L166.6 658.5L167.2 656.7L167.9 654.9L168.5 653.2L169.2 651.6L169.8 650.0L170.5 648.4L170.8 646.7L171.6 645.2L172.5 643.6L173.5 642.0L174.5 640.3L175.4 638.7L176.4 637.2L177.3 635.7L178.2 634.2L179.2 632.8L180.1 631.3L181.1 629.9L182.0 628.6L182.9 627.2L183.9 625.8L184.8 624.5L186.0 622.9L187.1 621.3L188.3 619.7L189.5 618.1L190.6 616.6L191.8 615.1L193.0 613.6L194.2 612.2L195.3 610.7L196.5 609.3L197.7 607.9L198.8 606.5L200.0 605.1L201.2 603.8L202.3 602.4L203.5 601.1L204.7 599.8L205.8 598.5L207.0 597.2L208.2 595.9L209.4 594.7L210.5 593.4L211.7 592.2L212.9 591.0L214.0 589.8L215.2 588.6L216.4 587.4L217.5 586.2L218.7 585.0L219.9 583.9L221.1 582.7L222.2 581.6L223.8 580.0L225.3 578.5L226.9 577.1L228.5 575.6L230.0 574.1L231.6 572.7L233.1 571.3L234.7 569.9L236.3 568.4L237.8 567.1L239.4 565.7L240.9 564.3L242.5 562.9L244.1 561.6L245.6 560.2L247.2 558.9L248.7 557.6L250.3 556.3L251.9 555.0L253.4 553.7L255.0 552.4L256.5 551.1L258.1 549.8L259.6 548.5L261.2 547.3L262.8 546.0L264.3 544.8L265.9 543.5L267.4 542.3L269.0 541.1L270.6 539.9L272.1 538.7L273.7 537.6L275.2 536.4L276.8 535.2L278.4 534.1L279.9 532.9L281.5 531.8L283.0 530.7L284.6 529.5L286.2 528.4L287.7 527.3L289.3 526.2L290.8 525.0L292.4 523.9L294.0 522.8L295.5 521.7L297.1 520.6L298.6 519.6L300.2 518.5L301.8 517.4L303.3 516.3L304.9 515.2L306.4 514.2L308.0 513.1L309.6 512.0L311.1 511.0L312.7 509.9L314.2 508.9L315.8 507.8L317.3 506.8L318.9 505.8L320.5 504.7L322.0 503.7L323.6 502.7L325.1 501.6L326.7 500.6L328.3 499.6L329.8 498.6L331.4 497.6L332.9 496.5L334.5 495.5L336.1 494.5L337.6 493.5L339.2 492.5L340.7 491.5L342.3 490.5L343.9 489.5L345.4 488.5L347.0 487.6L348.5 486.6L350.1 485.6L351.7 484.6L353.2 483.6L354.8 482.7L356.3 481.7L357.9 480.7L359.5 479.8L361.0 478.8L362.6 477.8L364.1 476.9L365.7 475.9L367.3 475.0L368.8 474.0L370.4 473.1L371.9 472.1L373.5 471.2L375.0 470.2L376.6 469.3L378.2 468.3L379.7 467.4L381.3 466.4L382.8 465.5L384.4 464.6L386.0 463.6L387.5 462.7L389.1 461.8L390.6 460.9L392.2 459.9L393.8 459.0L395.3 458.1L396.9 457.2L398.4 456.3L400.0 455.3L401.6 454.4L403.1 453.5L404.7 452.6L406.2 451.7L407.8 450.8L409.4 449.9L410.9 449.0L412.5 448.1L414.0 447.2L415.6 446.3L417.2 445.4L418.7 444.5L420.3 443.6L421.8 442.7L423.4 441.8L425.0 440.9L426.5 440.0L428.1 439.2L429.6 438.3L431.2 437.4L432.7 436.5L434.3 435.6L435.9 434.8L437.4 433.9L439.0 433.0L440.5 432.1L442.1 431.2L443.7 430.4L445.2 429.5L446.8 428.6L448.3 427.8L449.9 426.9L451.5 426.0L453.0 425.2L454.6 424.3L456.1 423.4L457.7 422.6L459.3 421.7L460.8 420.9L462.4 420.0L463.9 419.2L465.5 418.3L467.1 417.5L468.6 416.6L470.2 415.7L471.7 414.9L473.3 414.1L474.9 413.2L476.4 412.4L478.0 411.5L479.5 410.7L481.1 409.8L482.7 409.0L484.2 408.1L485.8 407.3L487.3 406.5L488.9 405.6L490.4 404.8L492.0 404.0L493.6 403.1L495.1 402.3L496.7 401.5L498.2 400.6L499.8 399.8L501.4 399.0L502.9 398.2L504.5 397.3L506.0 396.5L507.6 395.7L509.2 394.9L510.7 394.0L512.3 393.2L513.8 392.4L515.4 391.6L517.0 390.8L518.5 389.9L520.1 389.1L521.6 388.3L523.2 387.5L524.8 386.7L526.3 385.9L527.9 385.1L529.4 384.2L531.0 383.4L532.6 382.6L534.1 381.8L535.7 381.0L537.2 380.2L538.8 379.4L540.4 378.6L541.9 377.8L543.5 377.0L545.0 376.2L546.6 375.4L548.1 374.6L549.7 373.8L551.3 373.0L552.8 372.2L554.4 371.4L555.9 370.7L557.5 369.9L559.1 369.1L560.6 368.3L562.2 367.5L563.7 366.8L565.3 366.0L566.9 365.2L568.4 364.4L570.0 363.7L571.5 362.9L573.1 362.1L574.7 361.3L576.2 360.6L577.8 359.8L579.3 359.0L580.9 358.3L582.5 357.5L584.0 356.7L585.6 356.0L587.1 355.2L588.7 354.4L590.3 353.7L591.8 352.9L593.4 352.1L594.9 351.4L596.5 350.6L598.1 349.9L599.6 349.1L601.2 348.4L602.7 347.6L604.3 346.8L605.8 346.1L607.4 345.3L609.0 344.6L610.5 343.8L612.1 343.1L613.6 342.3L615.2 341.6L616.8 340.8L618.3 340.1L619.9 339.3L621.4 338.6L623.0 337.8L624.6 337.1L626.1 336.3L627.7 335.6L629.2 334.8L630.8 334.1L632.4 333.3L633.9 332.6L635.5 331.9L637.0 331.1L638.6 330.4L640.2 329.6L641.7 328.9L643.3 328.2L644.8 327.4L646.4 326.7L648.0 326.0L649.5 325.2L651.1 324.5L652.6 323.8L654.2 323.0L655.8 322.3L657.3 321.6L658.9 320.8L660.4 320.1L662.0 319.4L663.5 318.6L665.1 317.9L666.7 317.2L668.2 316.5L669.8 315.7L671.3 315.0L672.9 314.3L674.5 313.6L676.0 312.8L677.6 312.1L679.1 311.4L680.7 310.7L682.3 309.9L683.8 309.2L685.4 308.5L686.9 307.8L688.5 307.1L690.1 306.4L691.6 305.6L693.2 304.9L694.7 304.2L696.3 303.5L697.9 302.8L699.4 302.1L701.0 301.3L702.5 300.6L704.1 299.9L705.7 299.2L707.2 298.5L708.8 297.8L710.3 297.1L711.9 296.4L713.5 295.7L715.0 295.0L716.6 294.3L718.1 293.5L719.7 292.8L721.2 292.1L722.8 291.4L724.4 290.7L725.9 290.0L727.5 289.3L729.0 288.6L730.6 287.9L732.2 287.2L733.7 286.5L735.3 285.8L736.8 285.1L738.4 284.4L740.0 283.7L741.5 283.0L743.1 282.3L744.6 281.6L746.2 280.9L747.8 280.3L749.3 279.6L750.9 278.9L752.4 278.2L754.0 277.5L755.6 276.8L757.1 276.1L758.7 275.4L760.2 274.8L761.8 274.1L763.4 273.4L764.9 272.7L766.5 272.0L768.0 271.3L769.6 270.7L771.2 270.0L772.7 269.3L774.3 268.6L775.8 268.0L777.4 267.3L778.9 266.6L780.5 265.9L782.1 265.2L783.6 264.6L785.2 263.9L786.7 263.2L788.3 262.5L789.9 261.9L791.4 261.2L793.0 260.5L794.5 259.9L796.1 259.2L797.7 258.5L800.0 257.5L802.3 256.5L804.7 255.5L807.0 254.5L809.4 253.5L811.7 252.5L814.0 251.5L816.4 250.5L818.7 249.5L821.1 248.5L823.4 247.5L825.7 246.5L828.1 245.6L830.4 244.6L832.7 243.6L835.1 242.6L837.4 241.6L839.8 240.6L842.1 239.7L844.4 238.7L846.8 237.7L849.1 236.7L851.5 235.7L853.8 234.8L856.1 233.8L858.5 232.8L860.8 231.8L863.2 230.9L865.5 229.9L867.8 228.9L870.2 228.0L872.5 227.0L874.9 226.0L877.2 225.1L879.5 224.1L881.9 223.2L884.2 222.2L886.5 221.2L888.9 220.3L891.2 219.3L893.6 218.4L895.9 217.4L898.2 216.5L900.6 215.5L902.9 214.6L905.3 213.6L907.6 212.7L909.9 211.7L912.3 210.8L914.6 209.8L917.0 208.9L919.3 207.9L921.6 207.0L924.0 206.1L926.3 205.1L928.7 204.2L931.0 203.2L933.3 202.3L935.7 201.4L938.0 200.4L940.4 199.5L942.7 198.6L945.0 197.7L947.4 196.7L949.7 195.8L952.0 194.9L954.4 193.9L956.7 193.0L959.1 192.1L961.4 191.2L963.7 190.3L966.1 189.3L968.4 188.4L970.8 187.5L973.1 186.6L975.4 185.7L977.8 184.8L980.1 183.8L982.5 182.9L984.8 182.0L987.1 181.1L989.5 180.2L991.8 179.3L994.2 178.4L996.5 177.5L998.8 176.6L1001.3 175.6L1003.2 174.9" stroke="#3CC3C1" stroke-width="6.20"/>
<path d="M159.5 720.5L159.6 719.6L159.6 718.5L159.6 717.2L159.7 715.7L159.7 714.1L159.7 712.4L159.8 710.7L159.8 708.9L159.9 707.2L159.9 705.5L160.0 704.0L160.1 702.4L160.1 700.7L160.2 699.0L160.2 697.4L160.3 695.7L160.4 694.1L160.4 692.5L160.5 690.9L160.6 689.4L160.7 688.0L160.8 686.3L161.0 684.6L161.1 683.1L161.2 681.6L161.4 680.1L161.5 678.7L161.7 677.3L161.9 676.0L162.1 674.3L162.3 672.7L162.6 671.2L162.8 669.8L163.1 668.4L163.4 667.0L163.8 665.4L164.1 663.8L164.5 662.3L164.9 660.8L165.4 659.3L166.0 657.5L166.6 655.7L167.3 653.9L168.0 652.2L168.6 650.6L169.2 649.0L169.9 647.4L170.8 645.7L171.6 644.2L172.5 642.6L173.5 641.0L174.5 639.3L175.4 637.7L176.4 636.2L177.3 634.8L178.2 633.3L179.2 631.9L180.1 630.5L181.1 629.1L182.0 627.7L182.9 626.4L183.9 625.0L184.8 623.7L186.0 622.1L187.1 620.6L188.3 619.0L189.5 617.5L190.6 616.0L191.8 614.5L193.0 613.1L194.2 611.6L195.3 610.2L196.5 608.8L197.7 607.4L198.8 606.1L200.0 604.7L201.2 603.4L202.3 602.1L203.5 600.8L204.7 599.5L205.8 598.2L207.0 597.0L208.2 595.7L209.4 594.5L210.5 593.3L211.7 592.1L212.9 590.9L214.0 589.7L215.2 588.5L216.4 587.4L217.5 586.2L218.7 585.1L219.9 583.9L221.1 582.8L222.2 581.7L223.8 580.2L225.3 578.8L226.9 577.3L228.5 575.9L230.0 574.5L231.6 573.1L233.1 571.7L234.7 570.3L236.3 568.9L237.8 567.6L239.4 566.2L240.9 564.9L242.5 563.6L244.1 562.3L245.6 561.0L247.2 559.7L248.7 558.4L250.3 557.1L251.9 555.8L253.4 554.6L255.0 553.3L256.5 552.1L258.1 550.8L259.6 549.6L261.2 548.4L262.8 547.2L264.3 546.0L265.9 544.8L267.4 543.6L269.0 542.4L270.6 541.2L272.1 540.0L273.7 538.9L275.2 537.7L276.8 536.5L278.4 535.4L279.9 534.2L281.5 533.1L283.0 532.0L284.6 530.8L286.2 529.7L287.7 528.6L289.3 527.5L290.8 526.3L292.4 525.2L294.0 524.1L295.5 523.0L297.1 521.9L298.6 520.9L300.2 519.8L301.8 518.7L303.3 517.6L304.9 516.5L306.4 515.5L308.0 514.4L309.6 513.3L311.1 512.3L312.7 511.2L314.2 510.2L315.8 509.1L317.3 508.1L318.9 507.1L320.5 506.0L322.0 505.0L323.6 504.0L325.1 502.9L326.7 501.9L328.3 500.9L329.8 499.9L331.4 498.9L332.9 497.8L334.5 496.8L336.1 495.8L337.6 494.8L339.2 493.8L340.7 492.8L342.3 491.8L343.9 490.8L345.4 489.8L347.0 488.9L348.5 487.9L350.1 486.9L351.7 485.9L353.2 484.9L354.8 484.0L356.3 483.0L357.9 482.0L359.5 481.1L361.0 480.1L362.6 479.1L364.1 478.2L365.7 477.2L367.3 476.3L368.8 475.3L370.4 474.4L371.9 473.4L373.5 472.5L375.0 471.5L376.6 470.6L378.2 469.6L379.7 468.7L381.3 467.7L382.8 466.8L384.4 465.9L386.0 464.9L387.5 464.0L389.1 463.1L390.6 462.2L392.2 461.2L393.8 460.3L395.3 459.4L396.9 458.5L398.4 457.6L400.0 456.6L401.6 455.7L403.1 454.8L404.7 453.9L406.2 453.0L407.8 452.1L409.4 451.2L410.9 450.3L412.5 449.4L414.0 448.5L415.6 447.6L417.2 446.7L418.7 445.8L420.3 444.9L421.8 444.0L423.4 443.1L425.0 442.2L426.5 441.3L428.1 440.5L429.6 439.6L431.2 438.7L432.7 437.8L434.3 436.9L435.9 436.1L437.4 435.2L439.0 434.3L440.5 433.4L442.1 432.5L443.7 431.7L445.2 430.8L446.8 429.9L448.3 429.1L449.9 428.2L451.5 427.3L453.0 426.5L454.6 425.6L456.1 424.7L457.7 423.9L459.3 423.0L460.8 422.2L462.4 421.3L463.9 420.5L465.5 419.6L467.1 418.8L468.6 417.9L470.2 417.0L471.7 416.2L473.3 415.4L474.9 414.5L476.4 413.7L478.0 412.8L479.5 412.0L481.1 411.1L482.7 410.3L484.2 409.4L485.8 408.6L487.3 407.8L488.9 406.9L490.4 406.1L492.0 405.3L493.6 404.4L495.1 403.6L496.7 402.8L498.2 401.9L499.8 401.1L501.4 400.3L502.9 399.5L504.5 398.6L506.0 397.8L507.6 397.0L509.2 396.2L510.7 395.3L512.3 394.5L513.8 393.7L515.4 392.9L517.0 392.1L518.5 391.2L520.1 390.4L521.6 389.6L523.2 388.8L524.8 388.0L526.3 387.2L527.9 386.4L529.4 385.5L531.0 384.7L532.6 383.9L534.1 383.1L535.7 382.3L537.2 381.5L538.8 380.7L540.4 379.9L541.9 379.1L543.5 378.3L545.0 377.5L546.6 376.7L548.1 375.9L549.7 375.1L551.3 374.3L552.8 373.5L554.4 372.7L555.9 371.9L557.5 371.1L559.1 370.3L560.6 369.5L562.2 368.7L563.7 368.0L565.3 367.2L566.9 366.4L568.4 365.6L570.0 364.8L571.5 364.0L573.1 363.2L574.7 362.4L576.2 361.7L577.8 360.9L579.3 360.1L580.9 359.3L582.5 358.5L584.0 357.8L585.6 357.0L587.1 356.2L588.7 355.4L590.3 354.6L591.8 353.9L593.4 353.1L594.9 352.3L596.5 351.6L598.1 350.8L599.6 350.0L601.2 349.2L602.7 348.5L604.3 347.7L605.8 346.9L607.4 346.2L609.0 345.4L610.5 344.6L612.1 343.9L613.6 343.1L615.2 342.3L616.8 341.6L618.3 340.8L619.9 340.0L621.4 339.3L623.0 338.5L624.6 337.8L626.1 337.0L627.7 336.3L629.2 335.5L630.8 334.7L632.4 334.0L633.9 333.2L635.5 332.5L637.0 331.7L638.6 331.0L640.2 330.2L641.7 329.5L643.3 328.7L644.8 328.0L646.4 327.2L648.0 326.5L649.5 325.7L651.1 325.0L652.6 324.2L654.2 323.5L655.8 322.7L657.3 322.0L658.9 321.2L660.4 320.5L662.0 319.8L663.5 319.0L665.1 318.3L666.7 317.5L668.2 316.8L669.8 316.1L671.3 315.3L672.9 314.6L674.5 313.9L676.0 313.1L677.6 312.4L679.1 311.6L680.7 310.9L682.3 310.2L683.8 309.4L685.4 308.7L686.9 308.0L688.5 307.3L690.1 306.5L691.6 305.8L693.2 305.1L694.7 304.3L696.3 303.6L697.9 302.9L699.4 302.2L701.0 301.4L702.5 300.7L704.1 300.0L705.7 299.3L707.2 298.5L708.8 297.8L710.3 297.1L711.9 296.4L713.5 295.6L715.0 294.9L716.6 294.2L718.1 293.5L719.7 292.8L721.2 292.1L722.8 291.3L724.4 290.6L725.9 289.9L727.5 289.2L729.0 288.5L730.6 287.8L732.2 287.1L733.7 286.3L735.3 285.6L736.8 284.9L738.4 284.2L740.0 283.5L741.5 282.8L743.1 282.1L744.6 281.4L746.2 280.7L747.8 280.0L749.3 279.3L750.9 278.5L752.4 277.8L754.0 277.1L755.6 276.4L757.1 275.7L758.7 275.0L760.2 274.3L761.8 273.6L763.4 272.9L764.9 272.2L766.5 271.5L768.0 270.8L769.6 270.1L771.2 269.4L772.7 268.7L774.3 268.0L775.8 267.3L777.4 266.6L778.9 265.9L780.5 265.3L782.1 264.6L783.6 263.9L785.2 263.2L786.7 262.5L788.3 261.8L789.9 261.1L791.4 260.4L793.0 259.7L794.5 259.0L796.1 258.3L797.7 257.7L800.0 256.6L802.3 255.6L804.7 254.6L807.0 253.5L809.4 252.5L811.7 251.5L814.0 250.5L816.4 249.4L818.7 248.4L821.1 247.4L823.4 246.4L825.7 245.4L828.1 244.4L830.4 243.3L832.7 242.3L835.1 241.3L837.4 240.3L839.8 239.3L842.1 238.3L844.4 237.3L846.8 236.3L849.1 235.3L851.5 234.3L853.8 233.3L856.1 232.3L858.5 231.3L860.8 230.3L863.2 229.3L865.5 228.3L867.8 227.3L870.2 226.3L872.5 225.3L874.9 224.3L877.2 223.3L879.5 222.3L881.9 221.3L884.2 220.3L886.5 219.4L888.9 218.4L891.2 217.4L893.6 216.4L895.9 215.4L898.2 214.5L900.6 213.5L902.9 212.5L905.3 211.5L907.6 210.6L909.9 209.6L912.3 208.6L914.6 207.6L917.0 206.7L919.3 205.7L921.6 204.7L924.0 203.8L926.3 202.8L928.7 201.8L931.0 200.9L933.3 199.9L935.7 198.9L938.0 198.0L940.4 197.0L942.7 196.1L945.0 195.1L947.4 194.2L949.7 193.2L952.0 192.3L954.4 191.3L956.7 190.4L959.1 189.4L961.4 188.5L963.7 187.5L966.1 186.6L968.4 185.6L970.8 184.7L973.1 183.7L975.4 182.8L977.8 181.9L980.1 180.9L982.5 180.0L984.8 179.0L987.1 178.1L989.5 177.2L991.8 176.2L994.2 175.3L996.5 174.4L998.8 173.4L1001.3 172.5L1003.2 171.7" stroke="#FF77C3" stroke-width="6.20"/>
</g>
</g>
<g stroke="#000" fill="none">
<line x1="859.35" y1="28.00" x2="859.35" y2="723.00" stroke-width="4.40" stroke-linecap="butt"/>
<line x1="859.35" y1="30.45" x2="870.45" y2="30.45" stroke-width="4.70" stroke-linecap="round"/>
<line x1="859.35" y1="168.47" x2="870.45" y2="168.47" stroke-width="4.70" stroke-linecap="round"/>
<line x1="859.35" y1="306.49" x2="870.45" y2="306.49" stroke-width="4.70" stroke-linecap="round"/>
<line x1="859.35" y1="444.51" x2="870.45" y2="444.51" stroke-width="4.70" stroke-linecap="round"/>
<line x1="859.35" y1="582.53" x2="870.45" y2="582.53" stroke-width="4.70" stroke-linecap="round"/>
<line x1="859.35" y1="720.55" x2="870.45" y2="720.55" stroke-width="4.70" stroke-linecap="round"/>
<line x1="859.35" y1="99.46" x2="864.95" y2="99.46" stroke-width="4.70" stroke-linecap="round"/>
<line x1="859.35" y1="237.48" x2="864.95" y2="237.48" stroke-width="4.70" stroke-linecap="round"/>
<line x1="859.35" y1="375.50" x2="864.95" y2="375.50" stroke-width="4.70" stroke-linecap="round"/>
<line x1="859.35" y1="513.52" x2="864.95" y2="513.52" stroke-width="4.70" stroke-linecap="round"/>
<line x1="859.35" y1="651.54" x2="864.95" y2="651.54" stroke-width="4.70" stroke-linecap="round"/>
</g>
<text transform="translate(114.40 44.85) scale(0.7950 1)" font-family="'Liberation Sans', sans-serif" font-size="47.80" font-weight="bold" text-anchor="end" fill="#000" stroke="#000" stroke-width="0.50" stroke-linejoin="round">2.0</text>
<text transform="translate(114.40 151.02) scale(0.7950 1)" font-family="'Liberation Sans', sans-serif" font-size="47.80" font-weight="bold" text-anchor="end" fill="#000" stroke="#000" stroke-width="0.50" stroke-linejoin="round">1.9</text>
<text transform="translate(114.40 257.19) scale(0.7950 1)" font-family="'Liberation Sans', sans-serif" font-size="47.80" font-weight="bold" text-anchor="end" fill="#000" stroke="#000" stroke-width="0.50" stroke-linejoin="round">1.8</text>
<text transform="translate(114.40 363.36) scale(0.7950 1)" font-family="'Liberation Sans', sans-serif" font-size="47.80" font-weight="bold" text-anchor="end" fill="#000" stroke="#000" stroke-width="0.50" stroke-linejoin="round">1.7</text>
<text transform="translate(114.40 469.53) scale(0.7950 1)" font-family="'Liberation Sans', sans-serif" font-size="47.80" font-weight="bold" text-anchor="end" fill="#000" stroke="#000" stroke-width="0.50" stroke-linejoin="round">1.6</text>
<text transform="translate(114.40 575.70) scale(0.7950 1)" font-family="'Liberation Sans', sans-serif" font-size="47.80" font-weight="bold" text-anchor="end" fill="#000" stroke="#000" stroke-width="0.50" stroke-linejoin="round">1.5</text>
<text transform="translate(114.40 681.87) scale(0.7950 1)" font-family="'Liberation Sans', sans-serif" font-size="47.80" font-weight="bold" text-anchor="end" fill="#000" stroke="#000" stroke-width="0.50" stroke-linejoin="round">1.4</text>
<text transform="translate(878.80 44.85) scale(0.7950 1)" font-family="'Liberation Sans', sans-serif" font-size="47.80" font-weight="bold" text-anchor="start" fill="#000" stroke="#000" stroke-width="0.50" stroke-linejoin="round">140</text>
<text transform="translate(878.80 182.87) scale(0.7950 1)" font-family="'Liberation Sans', sans-serif" font-size="47.80" font-weight="bold" text-anchor="start" fill="#000" stroke="#000" stroke-width="0.50" stroke-linejoin="round">120</text>
<text transform="translate(878.80 320.89) scale(0.7950 1)" font-family="'Liberation Sans', sans-serif" font-size="47.80" font-weight="bold" text-anchor="start" fill="#000" stroke="#000" stroke-width="0.50" stroke-linejoin="round">100</text>
<text transform="translate(878.80 458.91) scale(0.7950 1)" font-family="'Liberation Sans', sans-serif" font-size="47.80" font-weight="bold" text-anchor="start" fill="#000" stroke="#000" stroke-width="0.50" stroke-linejoin="round">80</text>
<text transform="translate(878.80 596.93) scale(0.7950 1)" font-family="'Liberation Sans', sans-serif" font-size="47.80" font-weight="bold" text-anchor="start" fill="#000" stroke="#000" stroke-width="0.50" stroke-linejoin="round">60</text>
<text transform="translate(878.80 734.95) scale(0.7950 1)" font-family="'Liberation Sans', sans-serif" font-size="47.80" font-weight="bold" text-anchor="start" fill="#000" stroke="#000" stroke-width="0.50" stroke-linejoin="round">40</text>
<text transform="translate(134.85 779.50) scale(0.7950 1)" font-family="'Liberation Sans', sans-serif" font-size="47.80" font-weight="bold" text-anchor="middle" fill="#000" stroke="#000" stroke-width="0.50" stroke-linejoin="round">0</text>
<text transform="translate(255.57 779.50) scale(0.7950 1)" font-family="'Liberation Sans', sans-serif" font-size="47.80" font-weight="bold" text-anchor="middle" fill="#000" stroke="#000" stroke-width="0.50" stroke-linejoin="round">1000</text>
<text transform="translate(376.28 779.50) scale(0.7950 1)" font-family="'Liberation Sans', sans-serif" font-size="47.80" font-weight="bold" text-anchor="middle" fill="#000" stroke="#000" stroke-width="0.50" stroke-linejoin="round">2000</text>
<text transform="translate(497.00 779.50) scale(0.7950 1)" font-family="'Liberation Sans', sans-serif" font-size="47.80" font-weight="bold" text-anchor="middle" fill="#000" stroke="#000" stroke-width="0.50" stroke-linejoin="round">3000</text>
<text transform="translate(617.72 779.50) scale(0.7950 1)" font-family="'Liberation Sans', sans-serif" font-size="47.80" font-weight="bold" text-anchor="middle" fill="#000" stroke="#000" stroke-width="0.50" stroke-linejoin="round">4000</text>
<text transform="translate(738.43 779.50) scale(0.7950 1)" font-family="'Liberation Sans', sans-serif" font-size="47.80" font-weight="bold" text-anchor="middle" fill="#000" stroke="#000" stroke-width="0.50" stroke-linejoin="round">5000</text>
<text transform="translate(859.15 779.50) scale(0.7950 1)" font-family="'Liberation Sans', sans-serif" font-size="47.80" font-weight="bold" text-anchor="middle" fill="#000" stroke="#000" stroke-width="0.50" stroke-linejoin="round">6000</text>
<text transform="translate(233.20 835.80) scale(0.8224 1)" font-family="'Liberation Sans', sans-serif" font-size="60.10" font-weight="bold" text-anchor="start" fill="#000">Current density <tspan font-weight="normal" font-size="48" stroke="#000" stroke-width="0.9">(</tspan>mA/cm<tspan font-size="34.5" dy="-28" font-weight="normal" dx="0.5" stroke="#000" stroke-width="0.9">2</tspan><tspan dy="28" font-weight="normal" font-size="48" dx="1" stroke="#000" stroke-width="0.9">)</tspan></text>
<text transform="translate(48.10 362.10) scale(0.9000 1) rotate(-90)" font-family="'Liberation Sans', sans-serif" font-size="59.00" font-weight="bold" text-anchor="middle" fill="#000">Cell voltage <tspan font-size="51">(</tspan>V<tspan font-size="51" dx="3">)</tspan></text>
<text transform="translate(986.90 375.00) scale(0.9000 1) rotate(-90)" font-family="'Liberation Sans', sans-serif" font-size="59.20" font-weight="bold" text-anchor="middle" fill="#000"><tspan font-size="56.5">HFR</tspan> <tspan font-weight="normal" font-size="38" stroke="#000" stroke-width="0.9">(</tspan>m<tspan font-family="'Liberation Serif', serif" font-weight="normal" font-size="61" stroke="#000" stroke-width="0.6">&#937;</tspan>&#183;cm<tspan font-size="30.5" dy="-25" font-weight="normal" stroke="#000" stroke-width="0.9">2</tspan><tspan dy="25" dx="4" font-weight="normal" font-size="38" stroke="#000" stroke-width="0.9">)</tspan></text>
<text transform="translate(2.40 89.30) scale(0.8800 1)" font-family="'Liberation Sans', sans-serif" font-size="99.30" font-weight="bold" text-anchor="start" fill="#000" stroke="#000" stroke-width="0.80" stroke-linejoin="round">A</text>
<rect x="154.60" y="50.50" width="303.20" height="177.60" fill="#000"/>
<rect x="146.30" y="40.20" width="302.20" height="178.40" fill="#fff" stroke="#6e6e6e" stroke-width="1.1"/>
<line x1="151.2" y1="69.6" x2="217.2" y2="69.6" stroke="#FF77C3" stroke-width="6.5" stroke-linecap="round"/>
<line x1="151.2" y1="131.9" x2="217.2" y2="131.9" stroke="#3CC3C1" stroke-width="6.5" stroke-linecap="round"/>
<line x1="151.2" y1="193.4" x2="217.2" y2="193.4" stroke="#5B70F8" stroke-width="6.5" stroke-linecap="round"/>
<text transform="translate(226.80 82.20) scale(0.8310 1)" font-family="'Liberation Sans', sans-serif" font-size="40.00" font-weight="bold" text-anchor="start" fill="#000">0.5-IrRuO<tspan font-size="27.0" dy="13.7" dx="0.5">x</tspan></text>
<text transform="translate(226.80 143.80) scale(0.8310 1)" font-family="'Liberation Sans', sans-serif" font-size="40.00" font-weight="bold" text-anchor="start" fill="#000">0.9-IrRuO<tspan font-size="27.0" dy="13.7" dx="0.5">x</tspan></text>
<text transform="translate(227.40 205.05) scale(0.8310 1)" font-family="'Liberation Sans', sans-serif" font-size="40.00" font-weight="bold" text-anchor="start" fill="#000">CCM baseline</text>
<rect x="154.60" y="273.00" width="224.90" height="108.40" fill="#000"/>
<rect x="146.00" y="262.50" width="225.70" height="108.80" fill="#fff" stroke="#6e6e6e" stroke-width="1.1"/>
<line x1="150.3" y1="295.8" x2="212" y2="295.8" stroke="#9233FA" stroke-width="6" stroke-linecap="round" stroke-dasharray="8.3 16.3"/>
<g fill="#9233FA"><circle cx="149.9" cy="346.6" r="2.75"/><circle cx="160.7" cy="346.6" r="2.75"/><circle cx="171.5" cy="346.6" r="2.75"/><circle cx="182.4" cy="346.6" r="2.75"/><circle cx="193.2" cy="346.6" r="2.75"/><circle cx="204.0" cy="346.6" r="2.75"/><circle cx="214.8" cy="346.6" r="2.75"/></g>
<text transform="translate(228.60 307.90) scale(0.8310 1)" font-family="'Liberation Sans', sans-serif" font-size="40.00" font-weight="bold" text-anchor="start" fill="#000">HFR-free</text>
<text transform="translate(227.60 358.60) scale(0.8310 1)" font-family="'Liberation Sans', sans-serif" font-size="40.00" font-weight="bold" text-anchor="start" fill="#000">HFR</text>
</g>
<g id="panelB">
<g stroke="#000" fill="none">
<line x1="1143.45" y1="11.75" x2="1143.45" y2="706.11" stroke-width="4.40" stroke-linecap="butt"/>
<line x1="1868.45" y1="11.75" x2="1868.45" y2="706.11" stroke-width="4.40" stroke-linecap="butt"/>
<line x1="1143.45" y1="14.20" x2="1868.45" y2="14.20" stroke-width="4.90" stroke-linecap="butt"/>
<line x1="1143.45" y1="703.66" x2="1868.45" y2="703.66" stroke-width="4.90" stroke-linecap="butt"/>
<line x1="1132.25" y1="100.38" x2="1143.45" y2="100.38" stroke-width="4.70" stroke-linecap="round"/>
<line x1="1132.25" y1="272.75" x2="1143.45" y2="272.75" stroke-width="4.70" stroke-linecap="round"/>
<line x1="1132.25" y1="445.11" x2="1143.45" y2="445.11" stroke-width="4.70" stroke-linecap="round"/>
<line x1="1132.25" y1="617.48" x2="1143.45" y2="617.48" stroke-width="4.70" stroke-linecap="round"/>
<line x1="1137.75" y1="14.20" x2="1143.45" y2="14.20" stroke-width="4.90" stroke-linecap="round"/>
<line x1="1137.75" y1="186.57" x2="1143.45" y2="186.57" stroke-width="4.70" stroke-linecap="round"/>
<line x1="1137.75" y1="358.93" x2="1143.45" y2="358.93" stroke-width="4.70" stroke-linecap="round"/>
<line x1="1137.75" y1="531.30" x2="1143.45" y2="531.30" stroke-width="4.70" stroke-linecap="round"/>
<line x1="1137.75" y1="703.66" x2="1143.45" y2="703.66" stroke-width="4.90" stroke-linecap="round"/>
<line x1="1143.45" y1="703.66" x2="1143.45" y2="717.96" stroke-width="4.10" stroke-linecap="round"/>
<line x1="1288.45" y1="703.66" x2="1288.45" y2="717.96" stroke-width="4.10" stroke-linecap="round"/>
<line x1="1433.45" y1="703.66" x2="1433.45" y2="717.96" stroke-width="4.10" stroke-linecap="round"/>
<line x1="1578.45" y1="703.66" x2="1578.45" y2="717.96" stroke-width="4.10" stroke-linecap="round"/>
<line x1="1723.45" y1="703.66" x2="1723.45" y2="717.96" stroke-width="4.10" stroke-linecap="round"/>
<line x1="1868.45" y1="703.66" x2="1868.45" y2="717.96" stroke-width="4.10" stroke-linecap="round"/>
<line x1="1215.95" y1="703.66" x2="1215.95" y2="710.86" stroke-width="4.10" stroke-linecap="round"/>
<line x1="1360.95" y1="703.66" x2="1360.95" y2="710.86" stroke-width="4.10" stroke-linecap="round"/>
<line x1="1505.95" y1="703.66" x2="1505.95" y2="710.86" stroke-width="4.10" stroke-linecap="round"/>
<line x1="1650.95" y1="703.66" x2="1650.95" y2="710.86" stroke-width="4.10" stroke-linecap="round"/>
<line x1="1795.95" y1="703.66" x2="1795.95" y2="710.86" stroke-width="4.10" stroke-linecap="round"/>
</g>
<path d="M1143.8 383.0 L1143.8 347.0 L1144.0 346.7 L1145.3 345.8 L1146.6 344.7 L1147.9 343.5 L1149.2 342.7 L1150.5 342.1 L1151.8 341.9 L1153.1 341.2 L1154.5 341.2 L1155.8 340.8 L1157.1 340.9 L1158.4 340.5 L1159.7 339.7 L1161.0 339.7 L1162.3 339.4 L1163.6 339.6 L1164.9 339.4 L1166.2 338.9 L1167.5 339.3 L1168.8 338.9 L1170.1 339.0 L1171.4 339.2 L1172.7 338.7 L1174.1 338.8 L1175.4 338.9 L1176.7 339.1 L1178.0 338.6 L1179.3 338.3 L1180.6 338.2 L1181.9 338.7 L1183.2 338.8 L1184.5 338.6 L1185.8 338.5 L1187.1 338.7 L1188.4 338.3 L1189.7 338.0 L1191.0 338.4 L1192.3 338.5 L1193.7 338.1 L1195.0 337.8 L1196.3 337.9 L1197.6 337.8 L1198.9 337.8 L1200.2 338.0 L1201.5 337.7 L1202.8 338.0 L1204.1 338.2 L1205.4 337.8 L1206.7 337.8 L1208.0 338.3 L1209.3 337.6 L1210.6 337.6 L1211.9 337.9 L1213.3 337.4 L1214.6 337.6 L1215.9 338.1 L1217.2 337.7 L1218.5 337.8 L1219.8 337.9 L1221.1 337.9 L1222.4 337.5 L1223.7 337.2 L1225.0 337.2 L1226.3 337.2 L1227.6 337.3 L1228.9 337.0 L1230.2 337.1 L1231.5 337.0 L1232.9 337.4 L1234.2 337.1 L1235.5 337.2 L1236.8 337.5 L1238.1 337.2 L1239.4 336.9 L1240.7 337.0 L1242.0 337.4 L1243.3 336.7 L1244.6 337.1 L1245.9 337.1 L1247.2 337.0 L1248.5 337.3 L1249.8 336.8 L1251.1 336.7 L1252.5 336.9 L1253.8 336.7 L1255.1 337.1 L1256.4 337.1 L1257.7 337.0 L1259.0 336.5 L1260.3 336.6 L1261.6 336.3 L1261.8 338.0 L1261.8 357.5 L1261.6 359.2 L1260.3 358.5 L1259.0 360.0 L1257.7 360.7 L1256.4 360.9 L1255.1 361.5 L1253.8 359.2 L1252.5 360.9 L1251.1 360.9 L1249.8 359.7 L1248.5 360.7 L1247.2 361.6 L1245.9 358.8 L1244.6 359.1 L1243.3 361.6 L1242.0 359.2 L1240.7 359.6 L1239.4 359.1 L1238.1 360.3 L1236.8 361.8 L1235.5 359.2 L1234.2 359.9 L1232.9 359.3 L1231.5 361.5 L1230.2 360.0 L1228.9 359.4 L1227.6 359.2 L1226.3 359.5 L1225.0 359.2 L1223.7 361.0 L1222.4 360.3 L1221.1 361.5 L1219.8 361.5 L1218.5 359.3 L1217.2 361.0 L1215.9 361.3 L1214.6 360.9 L1213.3 360.5 L1211.9 360.1 L1210.6 360.8 L1209.3 360.0 L1208.0 359.8 L1206.7 362.1 L1205.4 360.7 L1204.1 362.1 L1202.8 362.1 L1201.5 360.9 L1200.2 362.2 L1198.9 360.3 L1197.6 361.9 L1196.3 360.0 L1195.0 361.1 L1193.7 361.7 L1192.3 360.6 L1191.0 362.8 L1189.7 362.0 L1188.4 361.9 L1187.1 362.8 L1185.8 361.4 L1184.5 361.9 L1183.2 361.1 L1181.9 361.9 L1180.6 362.3 L1179.3 361.8 L1178.0 362.7 L1176.7 360.8 L1175.4 361.4 L1174.1 363.3 L1172.7 362.5 L1171.4 362.9 L1170.1 361.9 L1168.8 362.8 L1167.5 362.5 L1166.2 362.0 L1164.9 361.7 L1163.6 362.8 L1162.3 363.6 L1161.0 364.5 L1159.7 362.6 L1158.4 363.4 L1157.1 362.9 L1155.8 364.2 L1154.5 366.1 L1153.1 364.3 L1151.8 366.5 L1150.5 364.6 L1149.2 366.1 L1147.9 366.8 L1146.6 366.8 L1145.3 366.5 L1144.0 367.4 L1146.5 372.0 L1145.8 383.0Z" fill="#5B70F8" stroke="#5B70F8" stroke-width="1" stroke-linejoin="round"/>
<path d="M1144.2 438.5C1144.5 436.8 1145.0 430.8 1146.0 428.0C1147.0 425.2 1148.1 423.4 1150.0 421.5C1151.9 419.6 1154.6 417.9 1157.6 416.5C1160.6 415.1 1164.5 414.0 1168.0 413.0C1171.5 412.0 1174.3 411.2 1178.8 410.5C1183.3 409.8 1189.4 409.1 1195.0 408.5C1200.6 407.9 1209.6 407.2 1212.5 407.0" fill="none" stroke="#3CC3C1" stroke-width="6.30" stroke-linecap="round" stroke-linejoin="round"/>
<path d="M1213.8 429.0C1214.1 427.7 1214.6 423.2 1215.5 421.0C1216.4 418.8 1217.7 416.9 1219.0 415.5C1220.3 414.1 1220.8 413.6 1223.5 412.5C1226.2 411.4 1228.8 410.2 1235.0 409.0C1241.2 407.8 1252.7 406.3 1261.0 405.3C1269.3 404.3 1277.2 403.7 1285.0 403.0C1292.8 402.3 1299.4 401.8 1308.0 401.1C1316.6 400.4 1331.5 398.7 1336.5 398.6C1341.5 398.5 1338.0 400.2 1338.3 400.5" fill="none" stroke="#3CC3C1" stroke-width="6.50" stroke-linecap="round" stroke-linejoin="round"/>
<path d="M1338.5 422.0C1338.8 421.1 1339.4 418.1 1340.3 416.5C1341.2 414.9 1342.3 413.6 1344.0 412.5C1345.7 411.4 1347.4 410.8 1350.4 409.8C1353.4 408.8 1357.3 407.6 1362.0 406.5C1366.7 405.4 1372.3 404.4 1378.6 403.3C1384.9 402.2 1395.8 400.6 1399.8 400.0C1403.8 399.4 1401.7 399.3 1402.3 399.8C1402.9 400.3 1403.1 403.2 1403.6 403.0C1404.1 402.8 1401.9 400.2 1405.2 398.6C1408.5 397.0 1416.5 395.2 1423.5 393.4C1430.5 391.5 1439.2 389.7 1447.0 387.5C1454.8 385.3 1462.7 382.2 1470.5 380.0C1478.3 377.8 1486.9 375.9 1494.0 374.5C1501.1 373.1 1506.6 372.2 1512.9 371.9C1519.2 371.6 1526.0 372.8 1531.7 372.6C1537.4 372.5 1543.5 370.8 1547.0 371.0C1550.5 371.2 1547.9 373.3 1552.8 373.8C1557.7 374.3 1566.5 374.5 1576.3 374.0C1586.1 373.5 1601.8 371.4 1611.6 371.0C1621.4 370.6 1628.8 371.6 1635.0 371.4C1641.2 371.2 1645.1 370.0 1649.0 370.0C1652.9 370.0 1650.6 371.3 1658.6 371.2C1666.6 371.1 1682.8 369.9 1697.0 369.2C1711.2 368.5 1728.3 367.8 1744.0 367.0C1759.7 366.2 1779.8 365.6 1791.0 364.7C1802.2 363.8 1807.2 361.4 1811.0 361.8C1814.8 362.2 1810.3 365.9 1813.5 366.8C1816.7 367.7 1821.5 367.1 1830.0 367.0C1838.5 366.9 1858.8 366.6 1864.5 366.5" fill="none" stroke="#3CC3C1" stroke-width="7.20" stroke-linecap="round" stroke-linejoin="round"/>
<text transform="translate(1123.40 114.78) scale(0.7950 1)" font-family="'Liberation Sans', sans-serif" font-size="47.80" font-weight="bold" text-anchor="end" fill="#000" stroke="#000" stroke-width="0.50" stroke-linejoin="round">2.2</text>
<text transform="translate(1123.40 287.15) scale(0.7950 1)" font-family="'Liberation Sans', sans-serif" font-size="47.80" font-weight="bold" text-anchor="end" fill="#000" stroke="#000" stroke-width="0.50" stroke-linejoin="round">2.0</text>
<text transform="translate(1123.40 459.51) scale(0.7950 1)" font-family="'Liberation Sans', sans-serif" font-size="47.80" font-weight="bold" text-anchor="end" fill="#000" stroke="#000" stroke-width="0.50" stroke-linejoin="round">1.8</text>
<text transform="translate(1123.40 631.88) scale(0.7950 1)" font-family="'Liberation Sans', sans-serif" font-size="47.80" font-weight="bold" text-anchor="end" fill="#000" stroke="#000" stroke-width="0.50" stroke-linejoin="round">1.6</text>
<text transform="translate(1143.25 763.00) scale(0.7950 1)" font-family="'Liberation Sans', sans-serif" font-size="47.80" font-weight="bold" text-anchor="middle" fill="#000" stroke="#000" stroke-width="0.50" stroke-linejoin="round">0</text>
<text transform="translate(1288.25 763.00) scale(0.7950 1)" font-family="'Liberation Sans', sans-serif" font-size="47.80" font-weight="bold" text-anchor="middle" fill="#000" stroke="#000" stroke-width="0.50" stroke-linejoin="round">100</text>
<text transform="translate(1433.25 763.00) scale(0.7950 1)" font-family="'Liberation Sans', sans-serif" font-size="47.80" font-weight="bold" text-anchor="middle" fill="#000" stroke="#000" stroke-width="0.50" stroke-linejoin="round">200</text>
<text transform="translate(1578.25 763.00) scale(0.7950 1)" font-family="'Liberation Sans', sans-serif" font-size="47.80" font-weight="bold" text-anchor="middle" fill="#000" stroke="#000" stroke-width="0.50" stroke-linejoin="round">300</text>
<text transform="translate(1723.25 763.00) scale(0.7950 1)" font-family="'Liberation Sans', sans-serif" font-size="47.80" font-weight="bold" text-anchor="middle" fill="#000" stroke="#000" stroke-width="0.50" stroke-linejoin="round">400</text>
<text transform="translate(1868.25 763.00) scale(0.7950 1)" font-family="'Liberation Sans', sans-serif" font-size="47.80" font-weight="bold" text-anchor="middle" fill="#000" stroke="#000" stroke-width="0.50" stroke-linejoin="round">500</text>
<text transform="translate(1414.00 822.50) scale(0.8270 1)" font-family="'Liberation Sans', sans-serif" font-size="60.10" font-weight="bold" text-anchor="start" fill="#000">Time <tspan font-weight="normal" font-size="48" stroke="#000" stroke-width="0.9">(</tspan>h<tspan font-weight="normal" font-size="48" stroke="#000" stroke-width="0.9">)</tspan></text>
<text transform="translate(1046.90 342.00) scale(0.9000 1) rotate(-90)" font-family="'Liberation Sans', sans-serif" font-size="59.00" font-weight="bold" text-anchor="middle" fill="#000">Cell voltage <tspan font-size="51">(</tspan>V<tspan font-size="51" dx="3">)</tspan></text>
<text transform="translate(1013.00 89.00) scale(0.8360 1)" font-family="'Liberation Sans', sans-serif" font-size="96.50" font-weight="bold" text-anchor="start" fill="#000" stroke="#000" stroke-width="0.80" stroke-linejoin="round">B</text>
<rect x="1165.80" y="41.90" width="287.70" height="114.70" fill="#000"/>
<rect x="1157.50" y="31.80" width="288.20" height="114.50" fill="#fff" stroke="#6e6e6e" stroke-width="1.1"/>
<line x1="1160" y1="60.4" x2="1227" y2="60.4" stroke="#3CC3C1" stroke-width="2.6"/>
<line x1="1160" y1="122.3" x2="1227" y2="122.3" stroke="#5B70F8" stroke-width="4.6"/>
<text transform="translate(1225.40 71.90) scale(0.8310 1)" font-family="'Liberation Sans', sans-serif" font-size="40.00" font-weight="bold" text-anchor="start" fill="#000">IrRuO<tspan font-size="27.0" dy="13.7" dx="0.5">x</tspan></text>
<text transform="translate(1225.40 133.70) scale(0.8310 1)" font-family="'Liberation Sans', sans-serif" font-size="40.00" font-weight="bold" text-anchor="start" fill="#000">CCM baseline</text>
<text transform="translate(1410.60 286.10) scale(0.8180 1)" font-family="'Liberation Sans', sans-serif" font-size="40.60" font-weight="bold" text-anchor="start" fill="#000">At 5 A/cm<tspan font-size="24.5" dy="-19" dx="1.5">2</tspan></text>
<text transform="translate(1257.20 489.20) scale(0.8810 1)" font-family="'Liberation Sans', sans-serif" font-size="34.40" font-weight="bold" text-anchor="start" fill="#000">Membrane: 2 mil</text>
<text transform="translate(1256.80 542.20) scale(0.8810 1)" font-family="'Liberation Sans', sans-serif" font-size="34.40" font-weight="bold" text-anchor="start" fill="#000">Active area: 5 cm<tspan font-size="21" dy="-16">2</tspan></text>
<text transform="translate(1256.80 601.10) scale(0.8810 1)" font-family="'Liberation Sans', sans-serif" font-size="34.40" font-weight="bold" text-anchor="start" fill="#000">Working temperature: 80 <tspan font-size="26" dy="-16" dx="3.5" font-weight="normal">o</tspan><tspan dy="16" dx="2">C</tspan></text>
<text transform="translate(1256.80 648.60) scale(0.8810 1)" font-family="'Liberation Sans', sans-serif" font-size="34.40" font-weight="bold" text-anchor="start" fill="#000">Anode and cathode pressure: 1 atm</text>
</g>
</g>
</svg></body></html>
